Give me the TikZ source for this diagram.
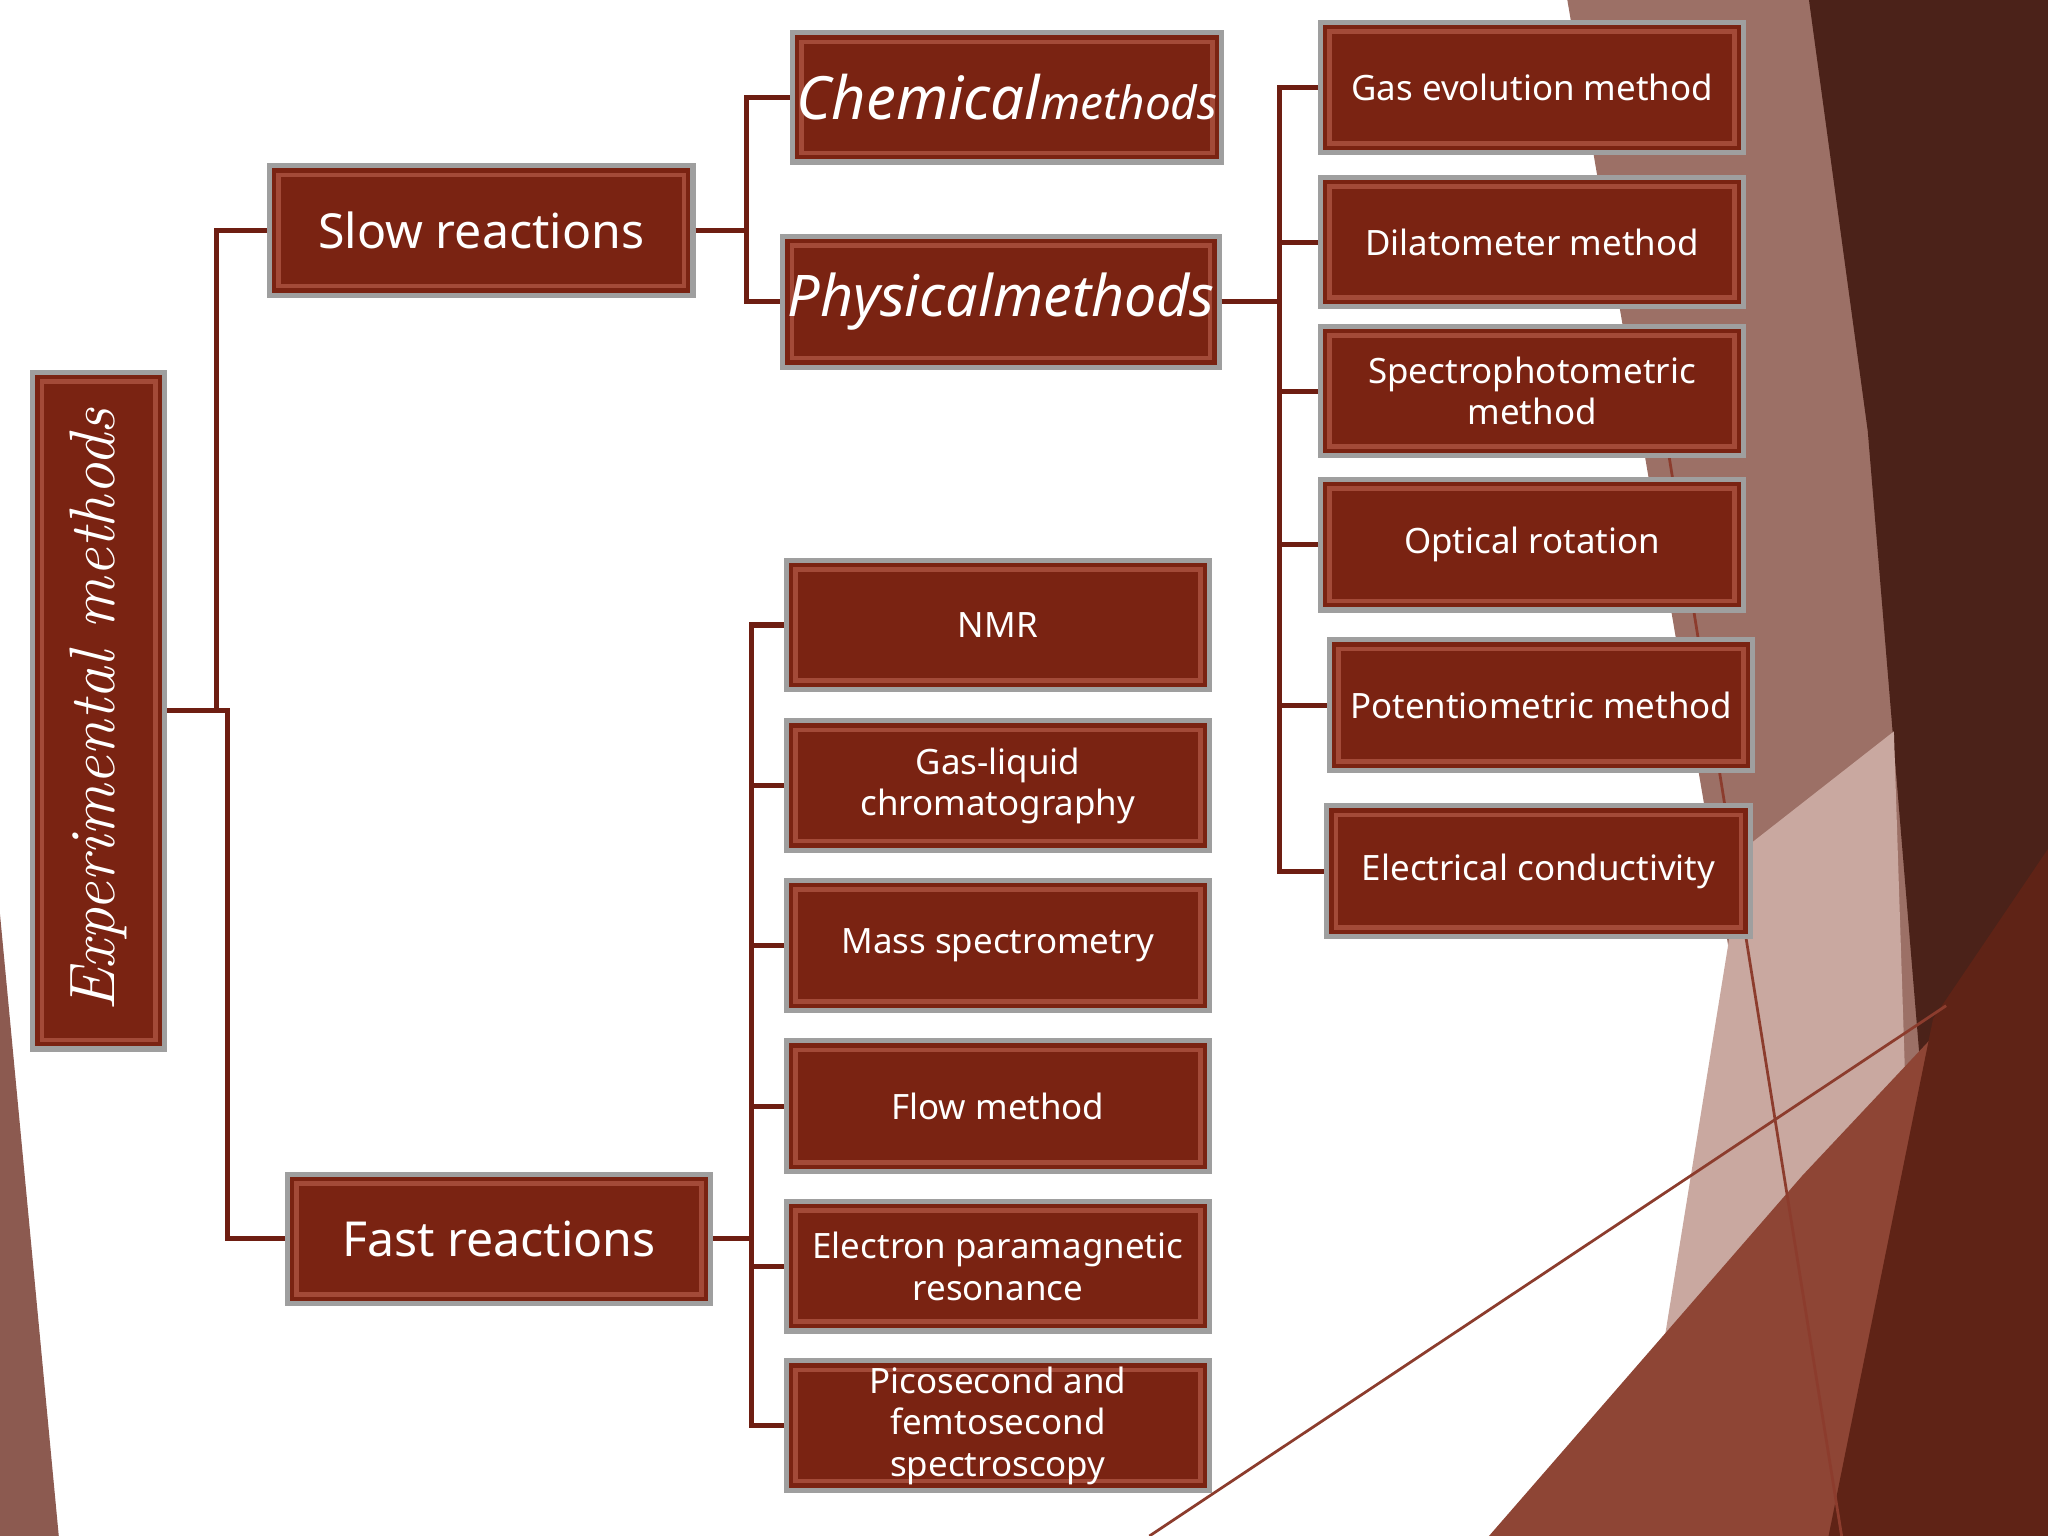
\documentclass[tikz,border=0pt]{standalone}
\usepackage{fontspec}
\setsansfont{Noto Sans}
\begin{document}
\begin{tikzpicture}[x=0.01cm,y=-0.01cm,
 box/.style={draw=gray!75,line width=1.1pt,fill=boxred,text=white,font=\sffamily\fontsize{7.6}{9}\selectfont,align=center,inner sep=1pt,minimum width=3.24cm,minimum height=0.99cm,
   path picture={\draw[boxedge,line width=1pt] ([shift={(2pt,-2pt)}]path picture bounding box.north west) rectangle ([shift={(-2pt,2pt)}]path picture bounding box.south east);}},
 big/.style={font=\sffamily\fontsize{10.5}{12}\selectfont},
 con/.style={draw=conred,line width=1.1pt}]
\definecolor{boxred}{HTML}{7A2312}
\definecolor{boxedge}{HTML}{A34A38}
\definecolor{conred}{HTML}{6E1E12}
\definecolor{bgA}{HTML}{9C7066}
\definecolor{bgB}{HTML}{4B2219}
\definecolor{bgC}{HTML}{C9A8A0}
\definecolor{bgD}{HTML}{8E4535}
\definecolor{bgE}{HTML}{5F2316}
\definecolor{bgL}{HTML}{8C3C2D}
\definecolor{bgF}{HTML}{8C5A50}
\useasboundingbox (0,0) rectangle (1568,1176);
\fill[white] (0,0) rectangle (1568,1176);
% background
\fill[bgA] (1200,0)--(1568,0)--(1568,1176)--(1400,1176)--cycle;
\fill[bgB] (1385,0)--(1568,0)--(1568,1176)--(1500,1176)--(1430,330)--cycle;
\fill[bgC] (1335,650)--(1450,560)--(1470,1176)--(1250,1176)--cycle;
\fill[bgD] (1140,1176)--(1380,900)--(1568,700)--(1568,1176)--cycle;
\fill[bgE] (1400,1176)--(1480,780)--(1568,650)--(1568,1176)--cycle;
\draw[bgL,line width=0.6pt] (880,1176)--(1490,770);
\draw[bgL,line width=0.6pt] (1270,300)--(1410,1176);
\fill[bgF] (0,700)--(45,1176)--(0,1176)--cycle;
% nodes
\node[box,minimum width=1.01cm,minimum height=5.18cm] (exp) at (75.5,544) {};
\node[text=white,rotate=90,font=\itshape\fontsize{14}{16}\selectfont] at (exp.center) {Experimental methods};
\node[box,big] (slow) at (368.5,176.5) {Slow reactions};
\node[box,big] (fast) at (382,948.5) {Fast reactions};
\node[box,font=\sffamily\itshape] (chem) at (771,74.5) {{\fontsize{13}{15}\selectfont Chemical}{\fontsize{10}{12}\selectfont methods}};
\node[box,minimum height=1cm,font=\sffamily\itshape\fontsize{12.5}{15}\selectfont] (phys) at (766.5,231) {Physicalmethods};
\node[box,minimum height=1cm] (r1) at (1173,67) {Gas evolution method};
\node[box] (r2) at (1173,185.5) {Dilatometer method};
\node[box] (r3) at (1173,299.5) {Spectrophotometric\\method};
\node[box,minimum height=1cm] (r4) at (1173,417) {Optical rotation};
\node[box,minimum height=1cm] (r5) at (1180,540) {Potentiometric method};
\node[box,minimum height=1cm] (r6) at (1178,667) {Electrical conductivity};
\node[box] (m1) at (764,478.5) {NMR};
\node[box] (m2) at (764,601.5) {Gas-liquid\\chromatography};
\node[box,minimum height=1cm] (m3) at (764,724) {Mass spectrometry};
\node[box,minimum height=1cm] (m4) at (764,847) {Flow method};
\node[box] (m5) at (764,969.5) {Electron paramagnetic\\resonance};
\node[box] (m6) at (764,1091.5) {Picosecond and\\femtosecond\\spectroscopy};
% connectors
\draw[con] (exp.east) -- ++(46,0) |- (fast.west);
\draw[con] (exp.east) -- ++(38,0) |- (slow.west);
\draw[con] (slow.east) -- ++(39,0) |- (chem.west);
\draw[con] (slow.east) -- ++(39,0) |- (phys.west);
\foreach \n in {r1,r2,r3,r4,r5,r6} \draw[con] (phys.east) -- ++(44,0) |- (\n.west);
\foreach \n in {m1,m2,m3,m4,m5,m6} \draw[con] (fast.east) -- ++(29,0) |- (\n.west);
\end{tikzpicture}
\end{document}
